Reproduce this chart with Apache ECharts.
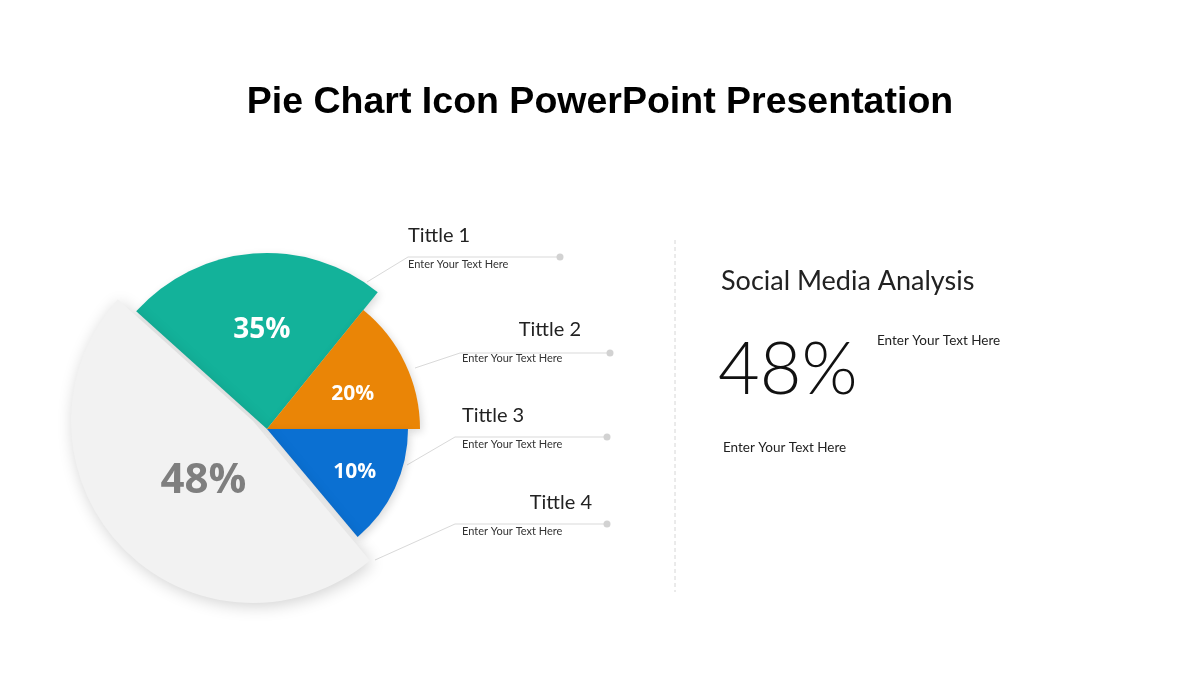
<!DOCTYPE html>
<html>
<head>
<meta charset="utf-8">
<title>Pie Chart Icon PowerPoint Presentation</title>
<script src="https://cdn.jsdelivr.net/npm/echarts@6/dist/echarts.min.js"></script>
<style>
    html, body { margin: 0; padding: 0; background: #fff; }
    #J-pie-1 { width: 1200px; height: 675px; }
</style>
</head>
<body>
<div id="J-pie-1"></div>
<script>
// slice names and the percentages printed on them
const NAMES = ['Tittle 1', 'Tittle 2', 'Tittle 3', 'Tittle 4'];
const SHARES = ['35%', '20%', '10%', '48%'];
// how wide each slice is drawn in the picture (degrees)
const SWEEPS = [87, 51, 50, 172];
const COLORS = ['#13b29a', '#ea8506', '#0b70d2', '#f2f2f2'];
const NOTE = 'Enter Your Text Here';
const PANEL_TITLE = 'Social Media Analysis';
const PANEL_VALUE = '48%';

const FONT = 'Lato, "Open Sans", sans-serif';

/*************** 饼图 **************/
{
    // every slice is its own pie so it can have its own radius
    const slices = [
        {center: [267, 429], radius: 176, size: 28, color: '#fff', dx: 2, dy: -8},
        {center: [267, 429], radius: 153, size: 21, color: '#fff', dx: 14, dy: -1},
        {center: [267, 429], radius: 141, size: 21, color: '#fff', dx: 21, dy: 12},
        {center: [253, 421], radius: 182, size: 42, color: '#7f7f7f', dx: 18, dy: -5},
    ];

    const series = slices.map((s, i) => ({
        type: 'pie',
        silent: true,
        z: i === 3 ? 4 : 2,
        center: s.center,
        radius: s.radius,
        startAngle: 138,
        clockwise: true,
        avoidLabelOverlap: false,
        emphasis: {disabled: true},
        labelLine: {show: false},
        labelLayout: {dx: s.dx, dy: s.dy},
        label: {
            show: true,
            position: 'inside',
            formatter: () => SHARES[i],
            color: s.color,
            fontSize: s.size,
            fontWeight: 'bold',
            fontFamily: '"Open Sans", sans-serif',
        },
        data: SWEEPS.map((v, j) => ({
            value: v,
            name: NAMES[j],
            label: {show: j === i},
            itemStyle: j === i ? {
                color: COLORS[i],
                borderWidth: 0,
                shadowBlur: i === 3 ? 16 : 8,
                shadowColor: i === 3 ? 'rgba(0,0,0,0.18)' : 'rgba(0,0,0,0.15)',
                shadowOffsetX: 2,
                shadowOffsetY: 3,
            } : {color: 'transparent', borderWidth: 0},
        })),
    }));

    // leader lines from the slices to the captions
    const leaders = [
        [[367, 282], [408, 257], [560, 257]],
        [[415, 368], [460, 353], [610, 353]],
        [[407, 465], [455, 437], [607, 437]],
        [[375, 560], [455, 524], [607, 524]],
    ];
    // caption spots: title x, align, title y, note x, note y
    const captions = [
        {x: 408, align: 'left', y: 236, nx: 408, ny: 264},
        {x: 581, align: 'right', y: 330, nx: 462, ny: 358},
        {x: 462, align: 'left', y: 416, nx: 462, ny: 444},
        {x: 592, align: 'right', y: 503, nx: 462, ny: 531},
    ];

    const graphic = [];
    leaders.forEach((pts, i) => {
        graphic.push({
            type: 'polyline', silent: true,
            shape: {points: pts},
            style: {stroke: '#d9d9d9', lineWidth: 1, fill: null},
        });
        const end = pts[pts.length - 1];
        graphic.push({
            type: 'circle', silent: true,
            shape: {cx: end[0], cy: end[1], r: 3.5},
            style: {fill: '#d2d2d2'},
        });
        const c = captions[i];
        graphic.push({
            type: 'text', silent: true, x: c.x, y: c.y,
            style: {text: NAMES[i], fill: '#222', font: '20px ' + FONT, textAlign: c.align, textVerticalAlign: 'middle'},
        });
        graphic.push({
            type: 'text', silent: true, x: c.nx, y: c.ny,
            style: {text: NOTE, fill: '#333', font: '11px ' + FONT, textAlign: 'left', textVerticalAlign: 'middle'},
        });
    });

    // right hand panel
    graphic.push(
        {
            type: 'line', silent: true,
            shape: {x1: 675, y1: 240, x2: 675, y2: 592},
            style: {stroke: '#d6d6d6', lineWidth: 1, lineDash: [4, 3]},
        },
        {
            type: 'text', silent: true, x: 721, y: 281,
            style: {text: PANEL_TITLE, fill: '#222', font: '27px ' + FONT, textVerticalAlign: 'middle'},
        },
        {
            type: 'text', silent: true, x: 718, y: 371,
            style: {text: PANEL_VALUE, fill: '#111', font: '300 72px ' + FONT, textVerticalAlign: 'middle'},
        },
        {
            type: 'text', silent: true, x: 877, y: 341,
            style: {text: NOTE, fill: '#222', font: '13.5px ' + FONT, textVerticalAlign: 'middle'},
        },
        {
            type: 'text', silent: true, x: 723, y: 448,
            style: {text: NOTE, fill: '#222', font: '13.5px ' + FONT, textVerticalAlign: 'middle'},
        }
    );

    const option = {
        animation: false,
        backgroundColor: '#fff',
        title: {
            text: 'Pie Chart Icon PowerPoint Presentation',
            left: 'center',
            top: 79,
            textStyle: {
                fontFamily: '"Liberation Sans", Arial, sans-serif',
                fontSize: 37.5,
                fontWeight: 'bold',
                color: '#000',
            },
        },
        graphic: graphic,
        series: series,
    };

    const chart = echarts.init(document.getElementById('J-pie-1'));
    chart.setOption(option);
}
</script>
</body>
</html>
